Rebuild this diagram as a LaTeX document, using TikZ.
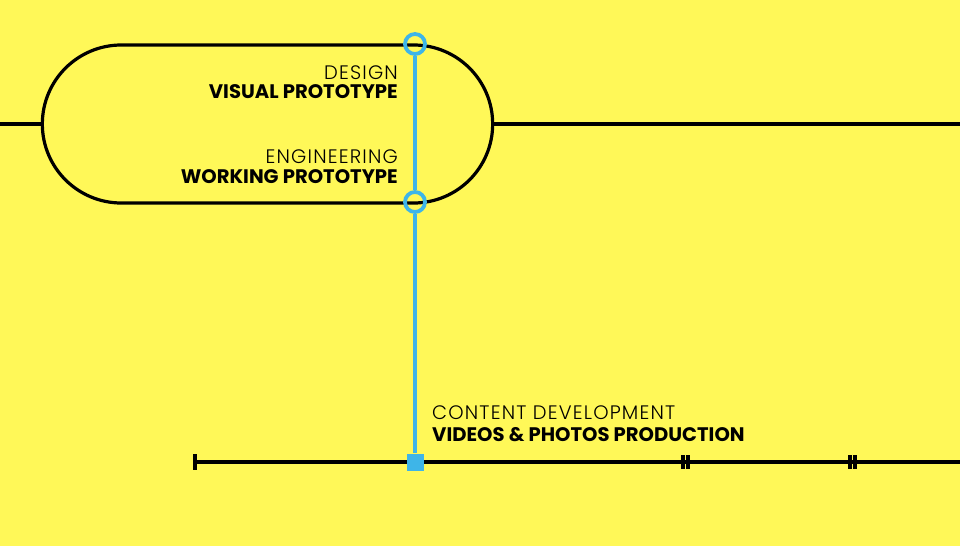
\documentclass[tikz,border=0pt]{standalone}
\usepackage{fontspec}
\setmainfont{Poppins}
\newfontfamily\lightfont[LetterSpace=6]{Poppins Light}
\usetikzlibrary{shapes.misc}
\definecolor{bgyellow}{RGB}{255,248,88}
\definecolor{lineblue}{RGB}{62,181,232}
\tikzset{
    track/.style={line width=3.2pt, black},
    light/.style={font=\lightfont\fontsize{19.5}{22}\selectfont, inner sep=0pt},
    heavy/.style={font=\fontsize{19.6}{22}\selectfont\bfseries, inner sep=0pt}
}

\begin{document}
\begin{tikzpicture}[x=1pt, y=-1pt]
        \fill[bgyellow] (0,0) rectangle (960,546);
        \useasboundingbox (0,0) rectangle (960,546);
        % phase loop and the two side lines
        \node[rounded rectangle, draw, track, minimum width=457pt, minimum height=158pt] (phase) at (267.5,124) {};
        \coordinate (L) at (0,124);
        \coordinate (R) at (960,124);
        \draw[track] (L) -- (phase.west);
        \draw[track] (phase.east) -- (R);
        % bottom timeline
        \coordinate (T0) at (195,462);
        \coordinate (T1) at (960,462);
        \draw[track] (T0) -- (T1);
        \draw[track] (195,454) -- (195,470);
        \foreach \x in {683,688,850,855}
            \draw[track] (\x,455) -- (\x,469);
        % blue milestones
        \node[circle, draw=lineblue, line width=3.8pt, minimum size=20pt, inner sep=0pt] (C) at (415,44) {};
        \node[circle, draw=lineblue, line width=3.8pt, minimum size=20pt, inner sep=0pt] (E) at (415,202) {};
        \node[rectangle, fill=lineblue, minimum size=17pt, inner sep=0pt] (S) at (415,462) {};
        \draw[lineblue, line width=4.5pt] (C) -- (E);
        \draw[lineblue, line width=4.5pt] (E) -- (S);
        % labels
        \node[light, anchor=base east] (d1) at (398,79) {DESIGN};
        \node[heavy, anchor=base east] (d2) at (398,98) {VISUAL PROTOTYPE};
        \node[light, anchor=base east] (e1) at (398,163) {ENGINEERING};
        \node[heavy, anchor=base east] (e2) at (398,183) {WORKING PROTOTYPE};
        \node[light, anchor=base west] (c1) at (432,419) {CONTENT DEVELOPMENT};
        \node[heavy, anchor=base west] (c2) at (432,441) {VIDEOS \& PHOTOS PRODUCTION};
    \end{tikzpicture}
\end{document}
